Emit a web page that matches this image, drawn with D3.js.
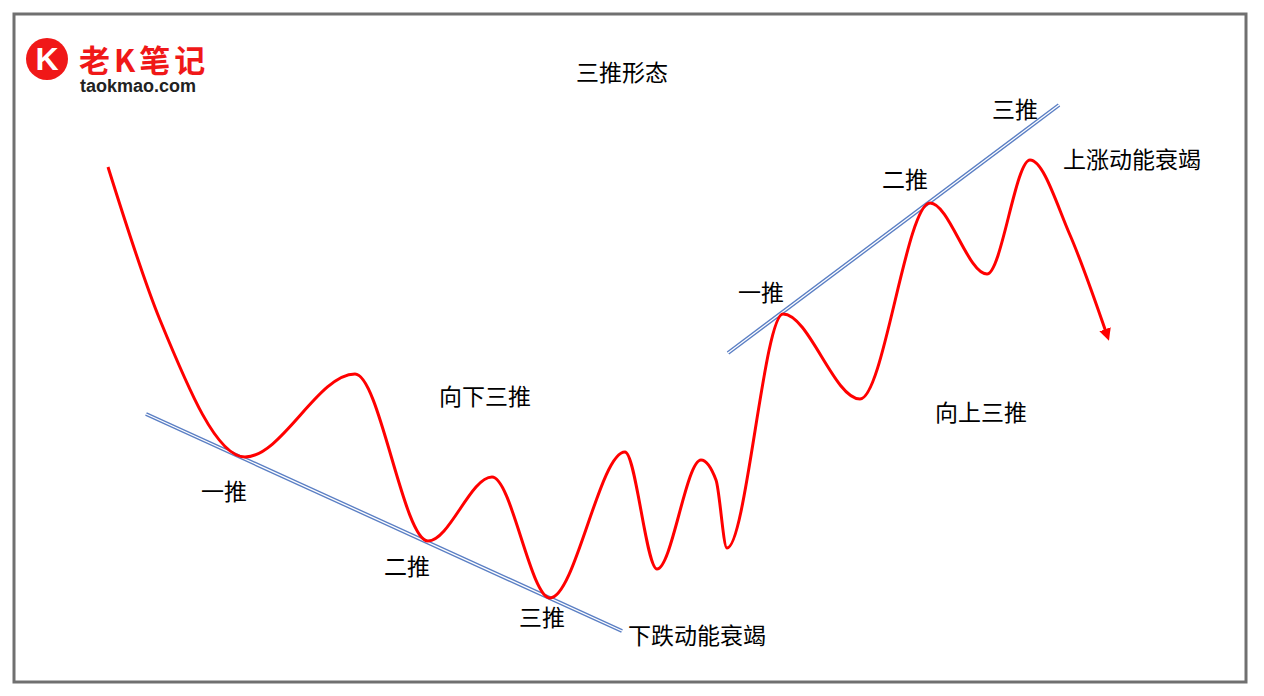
<!DOCTYPE html>
<html><head><meta charset="utf-8">
<script src="https://cdn.jsdelivr.net/npm/d3@7"></script>
<style>body{margin:0;background:#fff}text{font-family:"Noto Sans CJK SC",sans-serif}</style>
</head><body><svg id="c" width="1264" height="696"></svg>
<script>
// price path (t = time, p = price)
const curveT = [0,5.2,13.7,24.7,32,38.4,44.2,51.7,54.9,59.3,60.8,61.9,67.5,75.2,82.2,87.9,92.2,96.2,99.9];
const curveP = [90.6,60,32.6,49.2,15.8,28.6,4.4,33.6,10.2,32,28,14.4,61.2,44.2,83.4,69.2,92,77,57];
const downLine = [[3.8,41.2],[51.4,-2.2]];
const upLine = [[62,53.4],[95.1,103]];
const labelText = ['一推','二推','三推','向下三推','一推','二推','三推','向上三推'];
const labelT = [11.6,29.9,43.4,37.7,65.3,79.7,90.7,87.3];
const labelP = [25.6,10.6,0.4,44.6,65.4,88,102,41.4];
const sideText = ['下跌动能衰竭','上涨动能衰竭'];
const sideT = [52,95.5];
const sideP = [-3.2,92];

const svg = d3.select('#c');
const x = d3.scaleLinear().domain([0,100]).range([108,1108]);
const y = d3.scaleLinear().domain([0,100]).range([620,120]);

svg.append('rect').attr('x',14).attr('y',14).attr('width',1232).attr('height',668)
  .attr('fill','#fff').attr('stroke','#707070').attr('stroke-width',3);

// logo
svg.append('circle').attr('cx',47).attr('cy',59).attr('r',21).attr('fill','#f01818');
svg.append('text').attr('x',47).attr('y',70).attr('text-anchor','middle').attr('fill','#fff')
  .attr('font-size',32).attr('font-weight','bold').style('font-family','Arial,Liberation Sans').text('K');
svg.append('text').attr('x',79).attr('y',72).attr('fill','#f01818').attr('font-size',31)
  .attr('font-weight','bold').attr('letter-spacing',4).text('老K笔记');
svg.append('text').attr('x',80).attr('y',92).attr('fill','#222').attr('font-size',18)
  .attr('font-weight','bold').style('font-family','Arial,Liberation Sans').text('taokmao.com');

svg.append('text').attr('x',622).attr('y',81).attr('text-anchor','middle').attr('font-size',23).text('三推形态');

// double blue trend lines
[downLine, upLine].forEach(l => {
  const ln = d3.line().x(d => x(d[0])).y(d => y(d[1]));
  svg.append('path').attr('d',ln(l)).attr('stroke','#5b7fc4').attr('stroke-width',4).attr('fill','none');
  svg.append('path').attr('d',ln(l)).attr('stroke','#fff').attr('stroke-width',1.3).attr('fill','none');
});

svg.append('defs').append('marker').attr('id','arr').attr('viewBox','0 0 10 10')
  .attr('refX',5).attr('refY',5).attr('markerWidth',4).attr('markerHeight',4).attr('orient','auto')
  .append('path').attr('d','M0,0L10,5L0,10z').attr('fill','#f00');

const pts = curveT.map((t,i) => [t, curveP[i]]);
svg.append('path').attr('d', d3.line().x(d => x(d[0])).y(d => y(d[1])).curve(d3.curveMonotoneX)(pts))
  .attr('fill','none').attr('stroke','#f00').attr('stroke-width',3).attr('marker-end','url(#arr)');

svg.selectAll('.lb').data(labelText).join('text').attr('class','lb')
  .attr('x',(d,i) => x(labelT[i])).attr('y',(d,i) => y(labelP[i]) + 8)
  .attr('text-anchor','middle').attr('font-size',23).text(d => d);
svg.selectAll('.sd').data(sideText).join('text').attr('class','sd')
  .attr('x',(d,i) => x(sideT[i])).attr('y',(d,i) => y(sideP[i]) + 8)
  .attr('font-size',23).text(d => d);
</script></body></html>
